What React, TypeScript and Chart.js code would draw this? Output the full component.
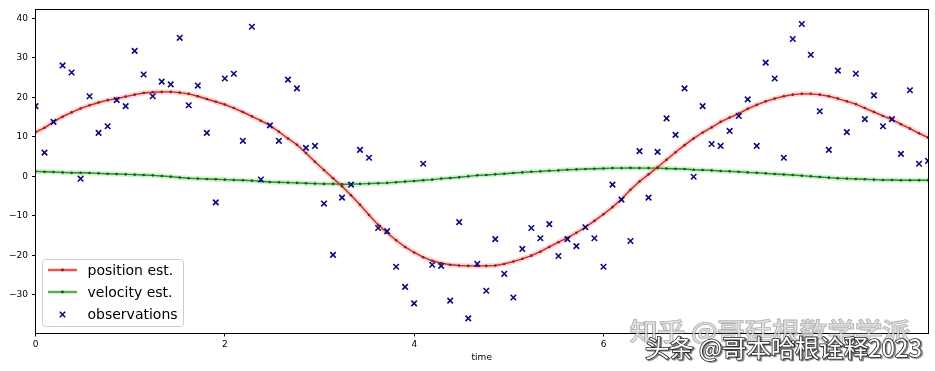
import React, { useEffect, useRef } from 'react';
import { Chart, registerables } from 'chart.js';

Chart.register(...registerables);

// ---- data ----
const TIME = [
  0.000, 0.095, 0.190, 0.286, 0.381, 0.476, 0.571, 0.666, 0.762, 0.857,
  0.952, 1.047, 1.142, 1.238, 1.333, 1.428, 1.523, 1.618, 1.714, 1.809,
  1.904, 1.999, 2.094, 2.190, 2.285, 2.380, 2.475, 2.570, 2.666, 2.761,
  2.856, 2.951, 3.046, 3.142, 3.237, 3.332, 3.427, 3.522, 3.618, 3.713,
  3.808, 3.903, 3.998, 4.094, 4.189, 4.284, 4.379, 4.474, 4.570, 4.665,
  4.760, 4.855, 4.950, 5.046, 5.141, 5.236, 5.331, 5.426, 5.522, 5.617,
  5.712, 5.807, 5.902, 5.998, 6.093, 6.188, 6.283, 6.378, 6.474, 6.569,
  6.664, 6.759, 6.854, 6.950, 7.045, 7.140, 7.235, 7.330, 7.426, 7.521,
  7.616, 7.711, 7.806, 7.902, 7.997, 8.092, 8.187, 8.282, 8.378, 8.473,
  8.568, 8.663, 8.758, 8.854, 8.949, 9.044, 9.139, 9.234, 9.330, 9.425,
];

const POSITION_EST = [
  11.2, 12.3, 13.8, 15.1, 16.2, 17.2, 18.0, 18.7, 19.3, 19.7,
  20.2, 20.7, 21.1, 21.3, 21.4, 21.4, 21.2, 20.9, 20.3, 19.6,
  18.9, 18.2, 17.3, 16.3, 15.2, 14.1, 12.9, 11.3, 9.6, 8.0,
  5.9, 3.7, 1.6, -0.5, -2.5, -4.8, -7.2, -9.8, -12.3, -14.3,
  -16.2, -17.9, -19.3, -20.5, -21.4, -22.0, -22.4, -22.6, -22.7, -22.7,
  -22.7, -22.6, -22.2, -21.6, -20.9, -20.1, -19.1, -17.9, -16.7, -15.6,
  -14.3, -12.9, -11.3, -9.6, -7.8, -5.8, -3.4, -1.3, 0.5, 2.3,
  4.2, 6.1, 7.9, 9.6, 11.1, 12.4, 13.8, 14.9, 15.9, 17.1,
  18.1, 19.0, 19.7, 20.3, 20.7, 20.9, 20.9, 20.7, 20.3, 19.7,
  19.0, 18.3, 17.3, 16.3, 15.3, 14.4, 13.2, 12.1, 10.9, 9.8,
];

const VELOCITY_EST = [
  1.26, 1.17, 1.09, 1.0, 0.92, 0.92, 0.84, 0.75, 0.67, 0.59,
  0.5, 0.42, 0.34, 0.25, 0.08, -0.08, -0.3, -0.5, -0.58, -0.67,
  -0.75, -0.84, -0.92, -1.0, -1.09, -1.26, -1.42, -1.5, -1.59, -1.67,
  -1.76, -1.84, -1.92, -1.92, -2.0, -2.0, -1.92, -1.84, -1.76, -1.67,
  -1.5, -1.34, -1.17, -1.0, -0.84, -0.58, -0.42, -0.25, 0.0, 0.25,
  0.34, 0.5, 0.67, 0.84, 1.0, 1.17, 1.26, 1.42, 1.5, 1.67,
  1.76, 1.84, 1.92, 2.0, 2.09, 2.09, 2.13, 2.09, 2.09, 2.09,
  2.0, 1.92, 1.84, 1.67, 1.59, 1.5, 1.34, 1.26, 1.17, 1.0,
  0.92, 0.75, 0.59, 0.46, 0.34, 0.17, 0.0, -0.17, -0.34, -0.5,
  -0.58, -0.67, -0.75, -0.84, -0.92, -0.92, -1.0, -1.0, -1.0, -1.0,
];

const OBSERVATIONS = [
  17.8, 6.0, 13.8, 28.1, 26.3, -0.6, 20.3, 11.0, 12.7, 19.3,
  17.8, 31.8, 25.8, 20.3, 24.0, 23.3, 35.1, 18.0, 23.0, 11.0,
  -6.6, 24.8, 26.0, 9.0, 37.9, -0.8, 12.9, 9.0, 24.5, 22.3,
  7.2, 7.7, -6.9, -19.9, -5.4, -2.1, 6.7, 4.7, -13.1, -13.9,
  -22.9, -28.0, -32.2, 3.2, -22.4, -22.7, -31.5, -11.6, -36.0, -22.2,
  -29.0, -15.9, -24.7, -30.7, -18.4, -13.1, -15.7, -12.1, -20.2, -15.9,
  -17.7, -12.9, -15.7, -22.9, -2.1, -5.9, -16.4, 6.4, -5.4, 6.2,
  14.7, 10.5, 22.3, -0.1, 17.8, 8.2, 7.7, 11.5, 15.3, 19.5,
  7.7, 28.8, 24.8, 4.7, 34.8, 38.6, 30.8, 16.5, 6.7, 26.8,
  11.2, 26.0, 14.5, 20.5, 12.7, 14.5, 5.7, 21.8, 3.2, 3.9,
];

const X_TICKS = [0, 2, 4, 6, 8];
const Y_TICKS = [-30, -20, -10, 0, 10, 20, 30, 40];
const X_MIN = 0;
const X_MAX = 9.4248;
const Y_MIN = -39.7;
const Y_MAX = 42.3;
const X_TITLE = 'time';
const LEGEND_LABELS = ['position est.', 'velocity est.', 'observations'];
const WATERMARK_1 = '知乎 @哥廷根数学学派';
const WATERMARK_2 = '头条 @哥本哈根诠释2023';

// ---- styles ----
const FONT = '"DejaVu Sans", sans-serif';
const POS_COLOR = '#c42a2a';
const POS_DOT = '#7d2424';
const POS_HALO = 'rgba(255, 90, 90, 0.28)';
const VEL_COLOR = '#2f8a2f';
const VEL_DOT = '#234d23';
const VEL_HALO = 'rgba(90, 225, 90, 0.32)';
const OBS_COLOR = '#0b0b80';

function toPoints(values: number[]) {
  return TIME.map((t, i) => ({ x: t, y: values[i] }));
}

function drawCross(ctx: CanvasRenderingContext2D, x: number, y: number, h: number) {
  ctx.beginPath();
  ctx.moveTo(x - h, y - h);
  ctx.lineTo(x + h, y + h);
  ctx.moveTo(x - h, y + h);
  ctx.lineTo(x + h, y - h);
  ctx.stroke();
}

function drawWatermark(
  ctx: CanvasRenderingContext2D,
  text: string,
  cx: number,
  cy: number,
  targetW: number,
  size: number,
  fill: string,
  stroke: string,
  shadow: boolean
) {
  ctx.save();
  ctx.font = `${size}px "Noto Sans CJK SC", sans-serif`;
  const w = ctx.measureText(text).width;
  ctx.translate(cx, cy);
  ctx.scale(targetW / w, 1);
  ctx.textAlign = 'center';
  ctx.textBaseline = 'middle';
  if (shadow) {
    ctx.shadowColor = 'rgba(0,0,0,0.55)';
    ctx.shadowOffsetX = 1.5;
    ctx.shadowOffsetY = 1.5;
    ctx.shadowBlur = 1;
  }
  ctx.lineWidth = 1.6;
  ctx.strokeStyle = stroke;
  ctx.strokeText(text, 0, 0);
  ctx.shadowColor = 'transparent';
  ctx.fillStyle = fill;
  ctx.fillText(text, 0, 0);
  ctx.restore();
}

const overlayPlugin = {
  id: 'overlay',
  afterDraw(chart: any) {
    const ctx: CanvasRenderingContext2D = chart.ctx;
    const ca = chart.chartArea;
    ctx.save();
    // frame (all four spines)
    const l = Math.floor(ca.left) + 0.5;
    const t = Math.floor(ca.top) + 0.5;
    const r = Math.floor(ca.right) + 0.5;
    const b = Math.floor(ca.bottom) + 0.5;
    ctx.strokeStyle = '#000';
    ctx.lineWidth = 1;
    ctx.strokeRect(l, t, r - l, b - t);

    // legend
    const lx = l + 7;
    const ly = b - 74;
    const lw = 141;
    const lh = 67;
    ctx.beginPath();
    (ctx as any).roundRect(lx, ly, lw, lh, 3);
    ctx.fillStyle = 'rgba(255,255,255,0.8)';
    ctx.fill();
    ctx.strokeStyle = '#cccccc';
    ctx.lineWidth = 1;
    ctx.stroke();

    const sx0 = lx + 5.5;
    const sx1 = lx + 34.5;
    const sxm = (sx0 + sx1) / 2;
    const rows = [ly + 10.5, ly + 32.5, ly + 55];
    const textX = lx + 45;
    // position entry
    ctx.strokeStyle = POS_HALO;
    ctx.lineWidth = 4;
    ctx.beginPath(); ctx.moveTo(sx0, rows[0]); ctx.lineTo(sx1, rows[0]); ctx.stroke();
    ctx.strokeStyle = POS_COLOR;
    ctx.lineWidth = 1.4;
    ctx.beginPath(); ctx.moveTo(sx0, rows[0]); ctx.lineTo(sx1, rows[0]); ctx.stroke();
    ctx.fillStyle = POS_DOT;
    ctx.beginPath(); ctx.arc(sxm, rows[0], 1.4, 0, Math.PI * 2); ctx.fill();
    // velocity entry
    ctx.strokeStyle = VEL_HALO;
    ctx.lineWidth = 4;
    ctx.beginPath(); ctx.moveTo(sx0, rows[1]); ctx.lineTo(sx1, rows[1]); ctx.stroke();
    ctx.strokeStyle = VEL_COLOR;
    ctx.lineWidth = 1.4;
    ctx.beginPath(); ctx.moveTo(sx0, rows[1]); ctx.lineTo(sx1, rows[1]); ctx.stroke();
    ctx.fillStyle = VEL_DOT;
    ctx.beginPath(); ctx.arc(sxm, rows[1], 1.4, 0, Math.PI * 2); ctx.fill();
    // observation entry
    ctx.strokeStyle = OBS_COLOR;
    ctx.lineWidth = 1.6;
    drawCross(ctx, sxm, rows[2], 2.7);

    ctx.fillStyle = '#000';
    ctx.font = `14px ${FONT}`;
    ctx.textAlign = 'left';
    ctx.textBaseline = 'alphabetic';
    ctx.fillText(LEGEND_LABELS[0], textX, rows[0] + 4.5);
    ctx.fillText(LEGEND_LABELS[1], textX, rows[1] + 4.5);
    ctx.fillText(LEGEND_LABELS[2], textX, rows[2] + 4.8);
    ctx.restore();

    // watermarks
    drawWatermark(ctx, WATERMARK_1, 770, 331, 280, 24, 'rgba(255,255,255,0.55)', 'rgba(110,110,110,0.55)', false);
    drawWatermark(ctx, WATERMARK_2, 783.5, 347.5, 277, 24, '#ffffff', '#2a2a2a', true);
  },
};

export default function App() {
  const canvasRef = useRef<HTMLCanvasElement | null>(null);

  useEffect(() => {
    document.body.style.margin = '0';
    const canvas = canvasRef.current;
    if (!canvas) return;

    const tickFont = { family: FONT, size: 9 };

    const chart = new Chart(canvas, {
      type: 'scatter',
      data: {
        datasets: [
          {
            label: LEGEND_LABELS[2],
            data: toPoints(OBSERVATIONS),
            showLine: false,
            pointStyle: 'crossRot',
            pointRadius: 3.9,
            pointBorderWidth: 1.6,
            pointBorderColor: OBS_COLOR,
            pointBackgroundColor: OBS_COLOR,
            borderColor: OBS_COLOR,
            clip: 0,
            order: 0,
          },
          {
            label: LEGEND_LABELS[0],
            data: toPoints(POSITION_EST),
            showLine: true,
            borderColor: POS_COLOR,
            borderWidth: 1.4,
            pointRadius: 1.3,
            pointBorderWidth: 0,
            pointBackgroundColor: POS_DOT,
            tension: 0,
            clip: 0,
            order: 1,
          },
          {
            label: LEGEND_LABELS[1],
            data: toPoints(VELOCITY_EST),
            showLine: true,
            borderColor: VEL_COLOR,
            borderWidth: 1.4,
            pointRadius: 1.3,
            pointBorderWidth: 0,
            pointBackgroundColor: VEL_DOT,
            tension: 0,
            clip: 0,
            order: 1,
          },
          {
            label: 'position band',
            data: toPoints(POSITION_EST),
            showLine: true,
            borderColor: POS_HALO,
            borderWidth: 5,
            pointRadius: 0,
            tension: 0,
            clip: 0,
            order: 2,
          },
          {
            label: 'velocity band',
            data: toPoints(VELOCITY_EST),
            showLine: true,
            borderColor: VEL_HALO,
            borderWidth: 5,
            pointRadius: 0,
            tension: 0,
            clip: 0,
            order: 2,
          },
        ],
      },
      options: {
        animation: false,
        responsive: false,
        devicePixelRatio: 1,
        layout: { padding: { top: 7, right: 7, left: 0, bottom: 0 } },
        plugins: {
          legend: { display: false },
          tooltip: { enabled: false },
        },
        scales: {
          x: {
            type: 'linear',
            min: X_MIN,
            max: X_MAX,
            afterBuildTicks: (s: any) => {
              s.ticks = X_TICKS.map((v) => ({ value: v }));
            },
            afterFit: (s: any) => {
              s.height = 38;
            },
            ticks: {
              font: tickFont,
              color: '#000',
              padding: 2.5,
              maxRotation: 0,
              autoSkip: false,
              callback: (v: any) => String(v).replace('-', '\u2212'),
            },
            grid: {
              display: true,
              drawOnChartArea: false,
              drawTicks: true,
              tickLength: 3.5,
              color: '#000',
              lineWidth: 1,
            },
            border: { display: false },
            title: {
              display: true,
              text: X_TITLE,
              color: '#000',
              font: { family: FONT, size: 9 },
              padding: { top: 0, bottom: 8 },
            },
          },
          y: {
            type: 'linear',
            min: Y_MIN,
            max: Y_MAX,
            afterBuildTicks: (s: any) => {
              s.ticks = Y_TICKS.map((v) => ({ value: v }));
            },
            afterFit: (s: any) => {
              s.width = 35.5;
            },
            ticks: {
              font: tickFont,
              color: '#000',
              padding: 4,
              autoSkip: false,
              callback: (v: any) => String(v).replace('-', '\u2212'),
            },
            grid: {
              display: true,
              drawOnChartArea: false,
              drawTicks: true,
              tickLength: 3.5,
              color: '#000',
              lineWidth: 1,
            },
            border: { display: false },
          },
        },
      },
      plugins: [overlayPlugin],
    } as any);

    return () => {
      chart.destroy();
    };
  }, []);

  return (
    <div style={{ width: 935, height: 371, background: '#fff' }}>
      <canvas ref={canvasRef} width={935} height={371} style={{ display: 'block' }} />
    </div>
  );
}
